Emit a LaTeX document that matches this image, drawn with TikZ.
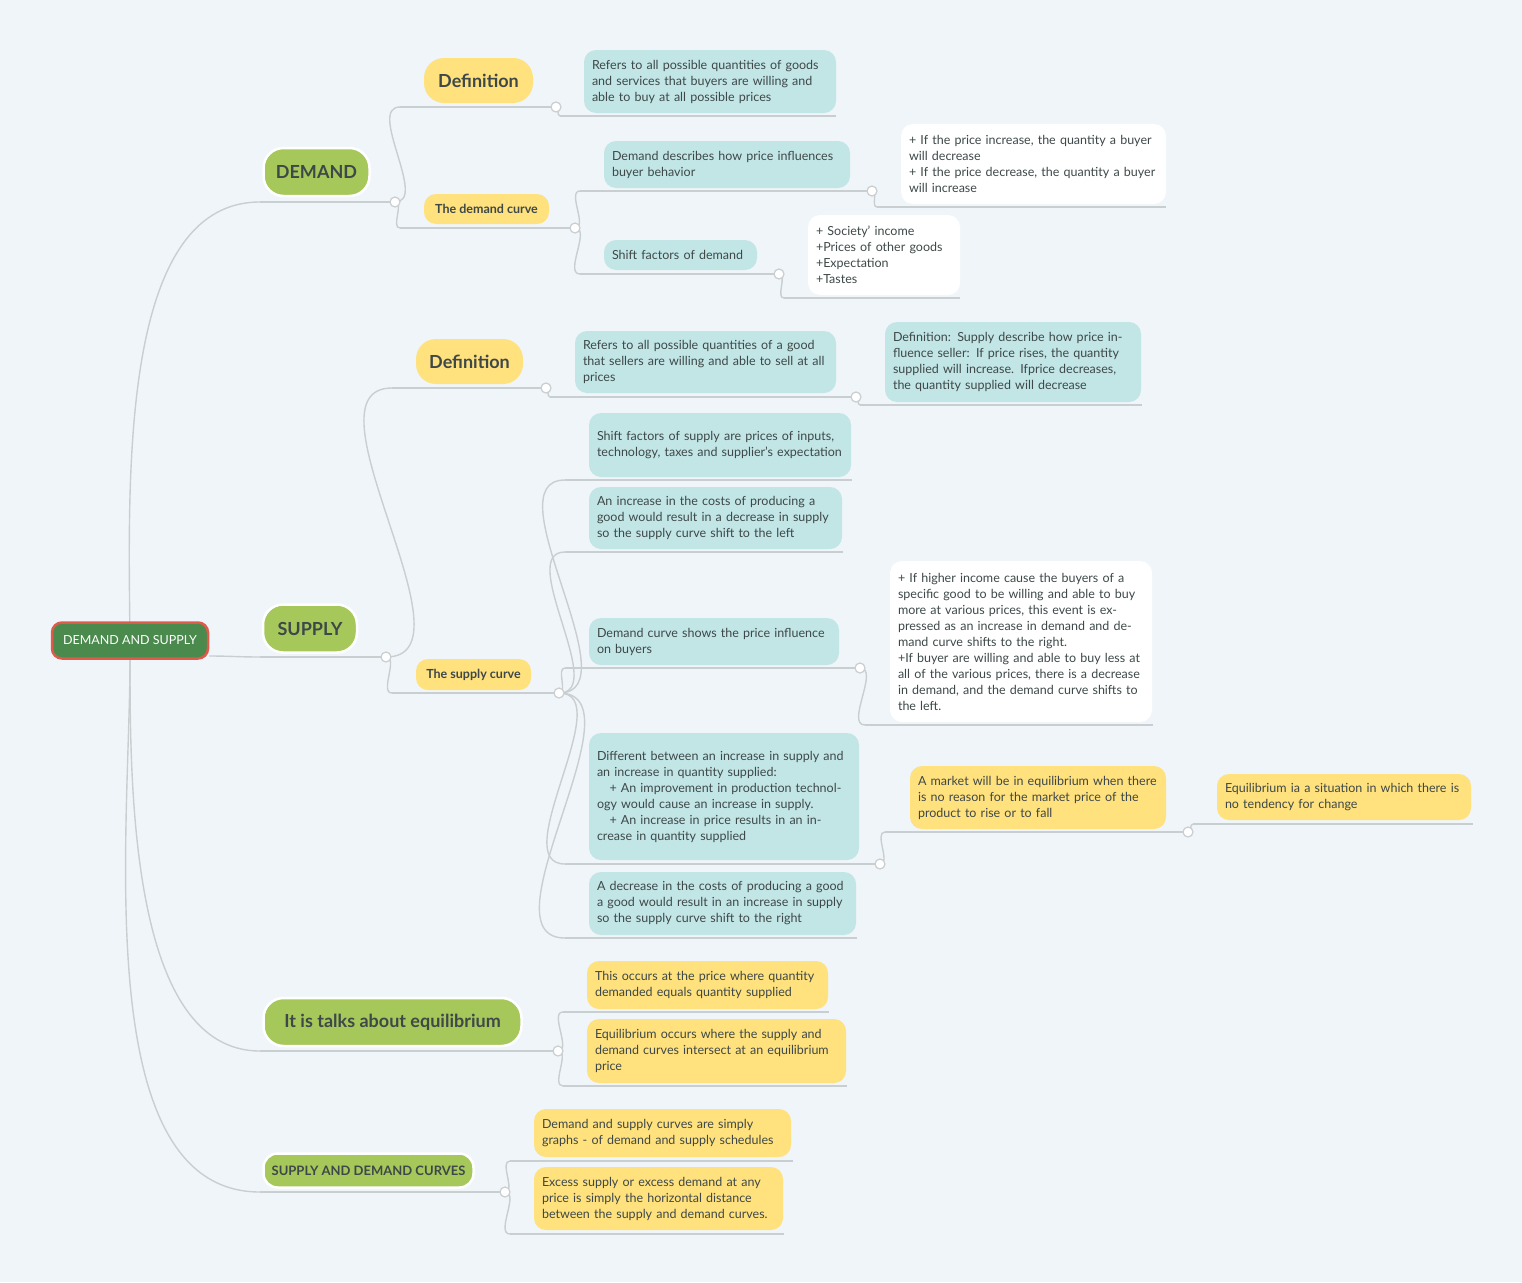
\documentclass[tikz,border=0pt]{standalone}
\usepackage{fontspec}
\setmainfont{Lato}
\definecolor{bg}{HTML}{EFF5F8}
\definecolor{ln}{HTML}{C9CED1}
\definecolor{tl}{HTML}{C2E5E6}
\definecolor{yl}{HTML}{FFE17E}
\definecolor{gr}{HTML}{A6C85A}
\definecolor{rt}{HTML}{4A8A4C}
\definecolor{rb}{HTML}{E05A4C}
\definecolor{tx}{HTML}{3E4848}
\tikzset{
 box/.style={rounded corners=12pt,inner sep=0pt,align=left,text=tx,font=\fontsize{12.5}{16}\selectfont},
 teal/.style={box,fill=tl},
 yel/.style={box,fill=yl},
 wht/.style={box,fill=white},
 main/.style={box,fill=gr,draw=white,line width=2.5pt,align=center,font=\fontsize{18}{22}\selectfont\bfseries,rounded corners=20pt},
 sub/.style={box,fill=yl,align=center,font=\fontsize{18}{22}\selectfont\bfseries,rounded corners=20pt},
 subs/.style={box,fill=yl,align=center,font=\fontsize{12.5}{16}\selectfont\bfseries},
 lnk/.style={draw=ln,line width=1.4pt},
 dot/.style={circle,draw=ln,fill=white,line width=1.2pt,minimum size=10pt,inner sep=0pt},
}
\newcommand\bx[7]{\pgfmathsetmacro\tw{#4-#2-16}\pgfmathsetmacro\bw{#4-#2}\pgfmathsetmacro\bh{#5-#3}%
 \node[#6,minimum width=\bw pt,minimum height=\bh pt,text width=\tw pt] (#1) at ({(#2+#4)/2},{(#3+#5)/2}) {#7};}
\newcommand\ul[4]{\coordinate (#1-s) at (#2,#4);\coordinate (#1-e) at (#3,#4);\draw[lnk] (#1-s)--(#1-e);}
\newcommand\cn[2]{\draw[lnk] (#1-e) to[out=0,in=180,looseness=0.9] (#2-s);}
\begin{document}
\begin{tikzpicture}[x=1pt,y=-1pt]
\fill[bg] (0,0) rectangle (1522,1282);
\useasboundingbox (0,0) rectangle (1522,1282);
% underlines
\ul{dem}{260}{395}{202}
\ul{sup}{260}{386}{657}
\ul{eq}{260}{558}{1051}
\ul{cur}{260}{505}{1192}
\ul{ddef}{400}{556}{107}
\ul{ddt}{560}{836}{116}
\ul{dc}{400}{575}{228}
\ul{dd}{580}{872}{191}
\ul{ddw}{877}{1166}{207}
\ul{sf}{580}{779}{274}
\ul{sfw}{784}{960}{298}
\ul{sdef}{392}{546}{388}
\ul{sdt}{550}{856}{397}
\ul{sdt2}{860}{1142}{405}
\ul{sc}{392}{559}{693}
\ul{s1}{565}{852}{480}
\ul{s2}{565}{843}{552}
\ul{s3}{565}{860}{668}
\ul{s3w}{865}{1153}{725}
\ul{s4}{565}{880}{864}
\ul{s4y}{885}{1188}{832}
\ul{s4z}{1193}{1473}{824}
\ul{s5}{565}{857}{938}
\ul{e1}{563}{829}{1012}
\ul{e2}{563}{847}{1086}
\ul{c1}{510}{793}{1161}
\ul{c2}{510}{784}{1234}
% root connectors
\coordinate (root-e) at (130,659);
\draw[lnk] (root-e) to[out=90,in=180,looseness=0.8] (dem-s);
\draw[lnk] (209,656) to[out=0,in=180] (sup-s);
\draw[lnk] (root-e) to[out=-90,in=180,looseness=0.8] (eq-s);
\draw[lnk] (root-e) to[out=-90,in=180,looseness=0.8] (cur-s);
\cn{dem}{ddef}\cn{dem}{dc}\cn{ddef}{ddt}\cn{dc}{dd}\cn{dc}{sf}\cn{dd}{ddw}\cn{sf}{sfw}
\cn{sup}{sdef}\cn{sup}{sc}\cn{sdef}{sdt}\cn{sdt}{sdt2}
\cn{sc}{s1}\cn{sc}{s2}\cn{sc}{s3}\cn{sc}{s4}\cn{sc}{s5}\cn{s3}{s3w}\cn{s4}{s4y}\cn{s4y}{s4z}
\cn{eq}{e1}\cn{eq}{e2}\cn{cur}{c1}\cn{cur}{c2}
\foreach \n in {dem,sup,eq,cur,ddef,dc,dd,sf,sdef,sdt,sc,s3,s4,s4y} {\node[dot] (\n-d) at (\n-e) {};}
% nodes
\node[box,fill=rt,draw=rb,line width=2.5pt,text=white,minimum width=156pt,minimum height=36pt,rounded corners=10pt] (root) at (130,640.5) {DEMAND AND SUPPLY};
\node[main,minimum width=106pt,minimum height=48pt] (DEM) at (316.5,172) {DEMAND};
\node[main,minimum width=94pt,minimum height=48pt] (SUP) at (310,628.5) {SUPPLY};
\node[main,minimum width=258pt,minimum height=48pt] (EQ) at (392.5,1022) {It is talks about equilibrium};
\node[main,minimum width=210pt,minimum height=34pt,font=\fontsize{13}{16}\selectfont\bfseries,rounded corners=14pt] (CUR) at (368.5,1170.5) {SUPPLY AND DEMAND CURVES};
\node[sub,minimum width=109pt,minimum height=45pt] (DDEF) at (478.5,80.5) {Definition};
\node[subs,minimum width=125pt,minimum height=30pt] (DC) at (486.5,209) {The demand curve};
\node[sub,minimum width=107pt,minimum height=45pt] (SDEF) at (469.5,361.5) {Definition};
\node[subs,minimum width=115pt,minimum height=31pt] (SC) at (473.5,674.5) {The supply curve};
\bx{t1}{584}{50}{836}{113}{teal}{Refers to all possible quantities of goods and services that buyers are willing and able to buy at all possible prices}
\bx{t2}{604}{141}{850}{188}{teal}{Demand describes how price influences buyer behavior}
\bx{w1}{901}{124}{1166}{204}{wht}{+ If the price increase, the quantity a buyer will decrease\\+ If the price decrease, the quantity a buyer will increase}
\bx{t3}{604}{240}{757}{270}{teal}{Shift factors of demand}
\bx{w2}{808}{215}{960}{295}{wht}{+ Society' income\\+Prices of other goods\\+Expectation\\+Tastes}
\bx{t4}{575}{331}{836}{393}{teal}{Refers to all possible quantities of a good that sellers are willing and able to sell at all prices}
\bx{t5}{885}{322}{1141}{402}{teal}{Definition: Supply describe how price influence seller: If price rises, the quantity supplied will increase. Ifprice decreases, the quantity supplied will decrease}
\bx{t6}{589}{413}{851}{477}{teal}{Shift factors of supply are prices of inputs, technology, taxes and supplier's expectation}
\bx{t7}{589}{487}{842}{549}{teal}{An increase in the costs of producing a good would result in a decrease in supply so the supply curve shift to the left}
\bx{t8}{589}{618}{839}{665}{teal}{Demand curve shows the price influence on buyers}
\bx{w3}{890}{561}{1152}{722}{wht}{+ If higher income cause the buyers of a specific good to be willing and able to buy more at various prices, this event is expressed as an increase in demand and demand curve shifts to the right.\\+If buyer are willing and able to buy less at all of the various prices, there is a decrease in demand, and the demand curve shifts to the left.}
\bx{t9}{589}{733}{859}{860}{teal}{Different between an increase in supply and an increase in quantity supplied:\\\hspace*{1em}+ An improvement in production technology would cause an increase in supply.\\\hspace*{1em}+ An increase in price results in an increase in quantity supplied}
\bx{y1}{910}{766}{1166}{829}{yel}{A market will be in equilibrium when there is no reason for the market price of the product to rise or to fall}
\bx{y2}{1217}{774}{1471}{820}{yel}{Equilibrium ia a situation in which there is no tendency for change}
\bx{t10}{589}{872}{856}{935}{teal}{A decrease in the costs of producing a good a good would result in an increase in supply so the supply curve shift to the right}
\bx{y3}{587}{961}{828}{1009}{yel}{This occurs at the price where quantity demanded equals quantity supplied}
\bx{y4}{587}{1019}{846}{1083}{yel}{Equilibrium occurs where the supply and demand curves intersect at an equilibrium price}
\bx{y5}{534}{1109}{791}{1157}{yel}{Demand and supply curves are simply graphs - of demand and supply schedules}
\bx{y6}{534}{1167}{783}{1230}{yel}{Excess supply or excess demand at any price is simply the horizontal distance between the supply and demand curves.}
\end{tikzpicture}
\end{document}
